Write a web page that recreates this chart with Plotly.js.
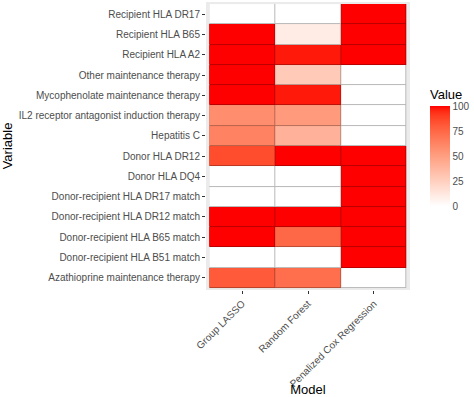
<!DOCTYPE html>
<html>
<head>
<meta charset="utf-8">
<script src="https://cdn.plot.ly/plotly-3.0.1.min.js"></script>
<style>html,body{margin:0;padding:0;background:#fff;}#chart{width:474px;height:397px;}</style>
</head>
<body>
<div id="chart"></div>
<script>
const models = ["Group LASSO", "Random Forest", "Penalized Cox Regression"];
const variables = [
  "Recipient HLA DR17",
  "Recipient HLA B65",
  "Recipient HLA A2",
  "Other maintenance therapy",
  "Mycophenolate maintenance therapy",
  "IL2 receptor antagonist induction therapy",
  "Hepatitis C",
  "Donor HLA DR12",
  "Donor HLA DQ4",
  "Donor-recipient HLA DR17 match",
  "Donor-recipient HLA DR12 match",
  "Donor-recipient HLA B65 match",
  "Donor-recipient HLA B51 match",
  "Azathioprine maintenance therapy"
];
const groupLasso   = [0, 100, 100, 100, 100, 58, 63, 85, 0, 0, 100, 100, 0, 80];
const randomForest = [0, 10, 97, 28, 97, 52, 40, 100, 0, 0, 100, 75, 0, 72];
const penalizedCox = [100, 100, 100, 0, 0, 0, 0, 100, 100, 100, 100, 100, 100, 0];
const colorTicks = [0, 25, 50, 75, 100];

// white -> red gradient interpolated in CIE Lab (like ggplot2's scale_fill_gradient)
function labToRgb(L, a, b, k) {
  const fy = (L + 16) / 116, fx = fy + a / 500, fz = fy - b / 200;
  const finv = t => (t > 6 / 29 ? t * t * t : 3 * (6 / 29) * (6 / 29) * (t - 4 / 29));
  const X = 0.95047 * finv(fx), Y = finv(fy), Z = 1.08883 * finv(fz);
  let r = 3.2406 * X - 1.5372 * Y - 0.4986 * Z;
  let g = -0.9689 * X + 1.8758 * Y + 0.0415 * Z;
  let bb = 0.0557 * X - 0.2040 * Y + 1.0570 * Z;
  const gam = c => {
    c = Math.min(1, Math.max(0, c));
    return c <= 0.0031308 ? 12.92 * c : 1.055 * Math.pow(c, 1 / 2.4) - 0.055;
  };
  return "rgb(" + [r, g, bb].map(c => Math.round(gam(c) * 255 * k)).join(",") + ")";
}
function labScale(k) {
  const s = [];
  for (let i = 0; i <= 20; i++) {
    const t = i / 20;
    s.push([t, labToRgb(100 + (53.24 - 100) * t, 80.09 * t, 67.20 * t, k)]);
  }
  return s;
}

const z = variables.map((v, i) => [groupLasso[i], randomForest[i], penalizedCox[i]]);

const borderTrace = {
  type: "heatmap", x: models, y: variables, z: z, zmin: 0, zmax: 100,
  colorscale: labScale(0.72), showscale: false, hoverinfo: "skip"
};
const heat = {
  type: "heatmap", x: models, y: variables, z: z,
  zmin: 0, zmax: 100, xgap: 1, ygap: 1,
  colorscale: labScale(1),
  colorbar: {
    title: {text: "Value", side: "top", font: {family: "Liberation Sans, Arial, sans-serif", size: 13, color: "#000"}},
    x: 1.098, xanchor: "left", y: 0.708, yanchor: "top",
    lenmode: "pixels", len: 120, thickness: 20, thicknessmode: "pixels",
    xpad: 0, ypad: 0, outlinewidth: 0, tickvals: colorTicks, ticks: "",
    tickfont: {family: "Liberation Sans, Arial, sans-serif", size: 10, color: "#4D4D4D"}
  }
};

const layout = {
  width: 474, height: 397,
  margin: {l: 206, r: 64, t: 2, b: 107},
  paper_bgcolor: "#FFFFFF", plot_bgcolor: "#EBEBEB",
  font: {family: "Liberation Sans, Arial, sans-serif", color: "#4D4D4D", size: 10},
  xaxis: {
    type: "category", categoryarray: models, range: [-0.55, 2.55],
    showgrid: false, zeroline: false, ticks: "outside", ticklen: 3, tickcolor: "#333",
    tickangle: -45, tickfont: {size: 10, color: "#4D4D4D"},
    title: {text: "Model", font: {size: 13, color: "#000"}, standoff: 6}
  },
  yaxis: {
    type: "category", categoryarray: variables, range: [13.6, -0.6],
    showgrid: false, zeroline: false, ticks: "outside", ticklen: 3, tickcolor: "#333",
    tickfont: {size: 10, color: "#4D4D4D"},
    title: {text: "Variable", font: {size: 13, color: "#000"}, standoff: 6}
  }
};

Plotly.newPlot("chart", [borderTrace, heat], layout, {displayModeBar: false, staticPlot: true});
</script>
</body>
</html>
